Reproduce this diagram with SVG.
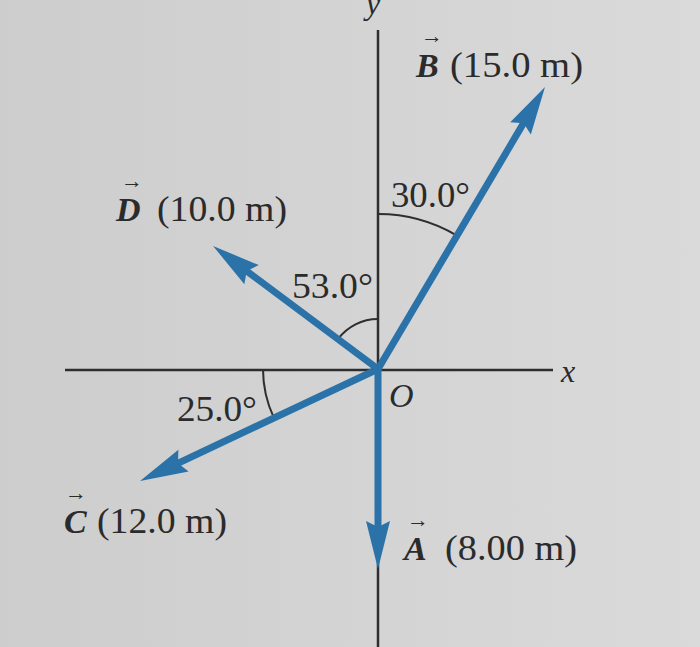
<svg xmlns="http://www.w3.org/2000/svg" width="700" height="647" viewBox="0 0 700 647">
  <defs>
    <linearGradient id="bg" x1="0" y1="0" x2="1" y2="0">
      <stop offset="0" stop-color="#cdcdcd"/>
      <stop offset="1" stop-color="#dadada"/>
    </linearGradient>
    <marker id="ah" markerUnits="userSpaceOnUse" orient="auto" overflow="visible" refX="0" refY="0" markerWidth="1" markerHeight="1">
      <path d="M30,0 L-18,-12 L-12,0 L-18,12 Z" fill="#2a72a8"/>
    </marker>
  </defs>
  <style>
    .axis { stroke: #2e2e2e; stroke-width: 2.5; fill: none; }
    .arc { stroke: #2e2e2e; stroke-width: 2; fill: none; }
    .vec { stroke: #2a72a8; stroke-width: 7; fill: none; marker-end: url(#ah); }
    text { font-family: "Liberation Serif", "Times New Roman", serif; fill: #2b2b2b; }
    .lbl { font-size: 35px; }
    .ang { font-size: 36px; }
    .sym { font-weight: bold; font-style: italic; font-size: 34px; }
    .vecarrow { font-size: 22px; }
    .it { font-style: italic; }
  </style>
  <rect x="0" y="0" width="700" height="647" fill="url(#bg)"/>

  <g id="axes">
    <line class="axis" x1="378" y1="30" x2="378" y2="647"/>
    <line class="axis" x1="65" y1="370" x2="553" y2="370"/>
    <text class="it" x="366" y="14" font-size="32">y</text>
    <text class="it" x="561" y="382" font-size="32">x</text>
    <text class="it" x="389" y="407" font-size="34">O</text>
  </g>

  <g id="angles">
    <path class="arc" d="M378,214 A155,155 0 0 1 457,235.6"/>
    <path class="arc" d="M378,319 A50,50 0 0 0 337.9,339.1"/>
    <path class="arc" d="M263,369 A115,115 0 0 0 273.8,417.6"/>
    <text class="ang" x="391" y="207" textLength="79" lengthAdjust="spacingAndGlyphs">30.0°</text>
    <text class="ang" x="292" y="298" textLength="81" lengthAdjust="spacingAndGlyphs">53.0°</text>
    <text class="ang" x="177" y="421" textLength="80" lengthAdjust="spacingAndGlyphs">25.0°</text>
  </g>

  <g id="connectors">
    <line class="vec" x1="378" y1="369" x2="378" y2="539"/>
    <line class="vec" x1="378" y1="369" x2="529.7" y2="112.8"/>
    <line class="vec" x1="378" y1="369" x2="167.2" y2="468.3"/>
    <line class="vec" x1="378" y1="369" x2="237.1" y2="263.9"/>
  </g>

  <g id="vector-A">
    <text class="vecarrow" x="407" y="527">→</text>
    <text class="sym" x="404" y="560">A</text>
    <text class="lbl" x="445" y="560" textLength="132" lengthAdjust="spacingAndGlyphs">(8.00 m)</text>
  </g>

  <g id="vector-B">
    <text class="vecarrow" x="421" y="43">→</text>
    <text class="sym" x="416" y="77">B</text>
    <text class="lbl" x="450" y="77" textLength="133" lengthAdjust="spacingAndGlyphs">(15.0 m)</text>
  </g>

  <g id="vector-C">
    <text class="vecarrow" x="65" y="500">→</text>
    <text class="sym" x="64" y="533">C</text>
    <text class="lbl" x="97" y="533" textLength="130" lengthAdjust="spacingAndGlyphs">(12.0 m)</text>
  </g>

  <g id="vector-D">
    <text class="vecarrow" x="121" y="188">→</text>
    <text class="sym" x="116" y="221">D</text>
    <text class="lbl" x="157" y="221" textLength="130" lengthAdjust="spacingAndGlyphs">(10.0 m)</text>
  </g>
</svg>
